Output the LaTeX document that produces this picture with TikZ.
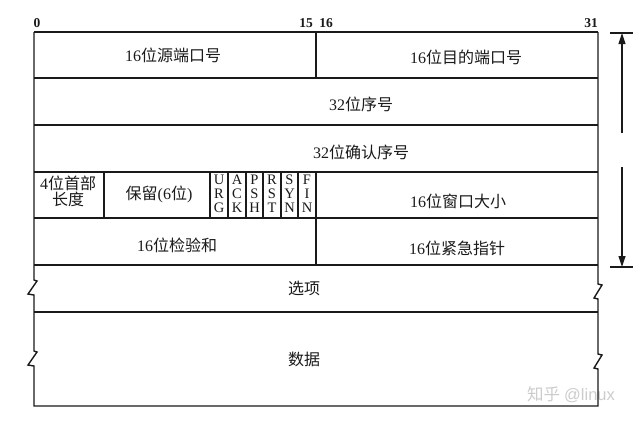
\documentclass[tikz,border=0pt]{standalone}
\usepackage{fontspec}
\setmainfont{Liberation Serif}
\newfontfamily\cjk{Noto Sans CJK SC}
\newfontfamily\wmsans{Liberation Sans}
\usetikzlibrary{arrows.meta}
\newcommand\zh[1]{{\cjk #1}}
\definecolor{ink}{HTML}{1A1A1A}
\definecolor{wm}{HTML}{CCCCCC}
\begin{document}
\begin{tikzpicture}[x=1bp,y=-1bp,
  frame/.style={draw=ink,line width=1.4bp,line join=miter},
  field/.style={font=\fontsize{16bp}{16bp}\selectfont,text=ink,inner sep=0pt,align=center},
  flag/.style={font=\fontsize{14.5bp}{14bp}\selectfont,text=ink,inner sep=0pt,align=center},
  bitno/.style={font=\bfseries\fontsize{13.5bp}{14bp}\selectfont,text=ink,inner sep=0pt,anchor=base},
  dim/.style={draw=ink,line width=1.1bp,-{Triangle[length=11bp,width=7bp]}},
  tick/.style={draw=ink,line width=1.1bp},
  wmtext/.style={font=\fontsize{16.5bp}{17bp}\selectfont,text=wm,inner sep=0pt}]
\useasboundingbox[fill=white] (0,0) rectangle (640,421);

% watermark (under the frame)
\node[wmtext] (wmark) at (571,395) {\zh{知乎} {\wmsans @linux}};

% bit numbers
\node[bitno] (b0)  at (37,27)  {0};
\node[bitno] (b15) at (306,27) {15};
\node[bitno] (b16) at (326,27) {16};
\node[bitno] (b31) at (591,27) {31};

% outer frame with break marks
\draw[frame] (34,32) -- (598,32);
\draw[frame] (34,32) -- (34,280) -- (37,281) -- (28,294) -- (34,295)
   -- (34,351) -- (37,352) -- (28,365) -- (34,366) -- (34,406) -- (598,406)
   -- (598,369) -- (594,368) -- (602,355) -- (598,354)
   -- (598,299) -- (594,298) -- (602,285) -- (598,284) -- (598,32);

% row lines
\foreach \y in {78,125,172,218,265,312}
  \draw[frame] (34,\y) -- (598,\y);

% column dividers
\draw[frame] (316,32) -- (316,78);
\draw[frame] (316,172) -- (316,265);
\foreach \x in {104,210,228,246,263,281,298}
  \draw[frame] (\x,172) -- (\x,218);

% field labels
\node[field] (srcport) at (173,55.5)  {16\zh{位源端口号}};
\node[field] (dstport) at (466,57)    {16\zh{位目的端口号}};
\node[field] (seq)     at (361,104.5) {32\zh{位序号}};
\node[field] (ack)     at (361,152.5) {32\zh{位确认序号}};
\node[field] (hlen)    at (68,191.5)  {4\zh{位首部}\\\zh{长度}};
\node[field] (resv)    at (159,194.5) {\zh{保留}(6\zh{位})};
\node[field] (win)     at (458,201)   {16\zh{位窗口大小}};
\node[field] (csum)    at (177,245)   {16\zh{位检验和}};
\node[field] (urgp)    at (457,248)   {16\zh{位紧急指针}};
\node[field] (opts)    at (304,288)   {\zh{选项}};
\node[field] (data)    at (304,359)   {\zh{数据}};

% flags
\node[flag] (furg) at (219,193.5)   {U\\R\\G};
\node[flag] (fack) at (237,193.5)   {A\\C\\K};
\node[flag] (fpsh) at (254.5,193.5) {P\\S\\H};
\node[flag] (frst) at (272,193.5)   {R\\S\\T};
\node[flag] (fsyn) at (289.5,193.5) {S\\Y\\N};
\node[flag] (ffin) at (307,193.5)   {F\\I\\N};

% header length dimension
\coordinate (ttopL) at (610,33);
\coordinate (ttopR) at (633,33);
\coordinate (tbotL) at (610,267);
\coordinate (tbotR) at (633,267);
\coordinate (atop)  at (622,33);
\coordinate (abot)  at (622,267);
\coordinate (gapA)  at (622,133);
\coordinate (gapB)  at (622,167);
\draw[tick] (ttopL) -- (ttopR);
\draw[tick] (tbotL) -- (tbotR);
\draw[dim] (gapA) -- (atop);
\draw[dim] (gapB) -- (abot);
\end{tikzpicture}
\end{document}
